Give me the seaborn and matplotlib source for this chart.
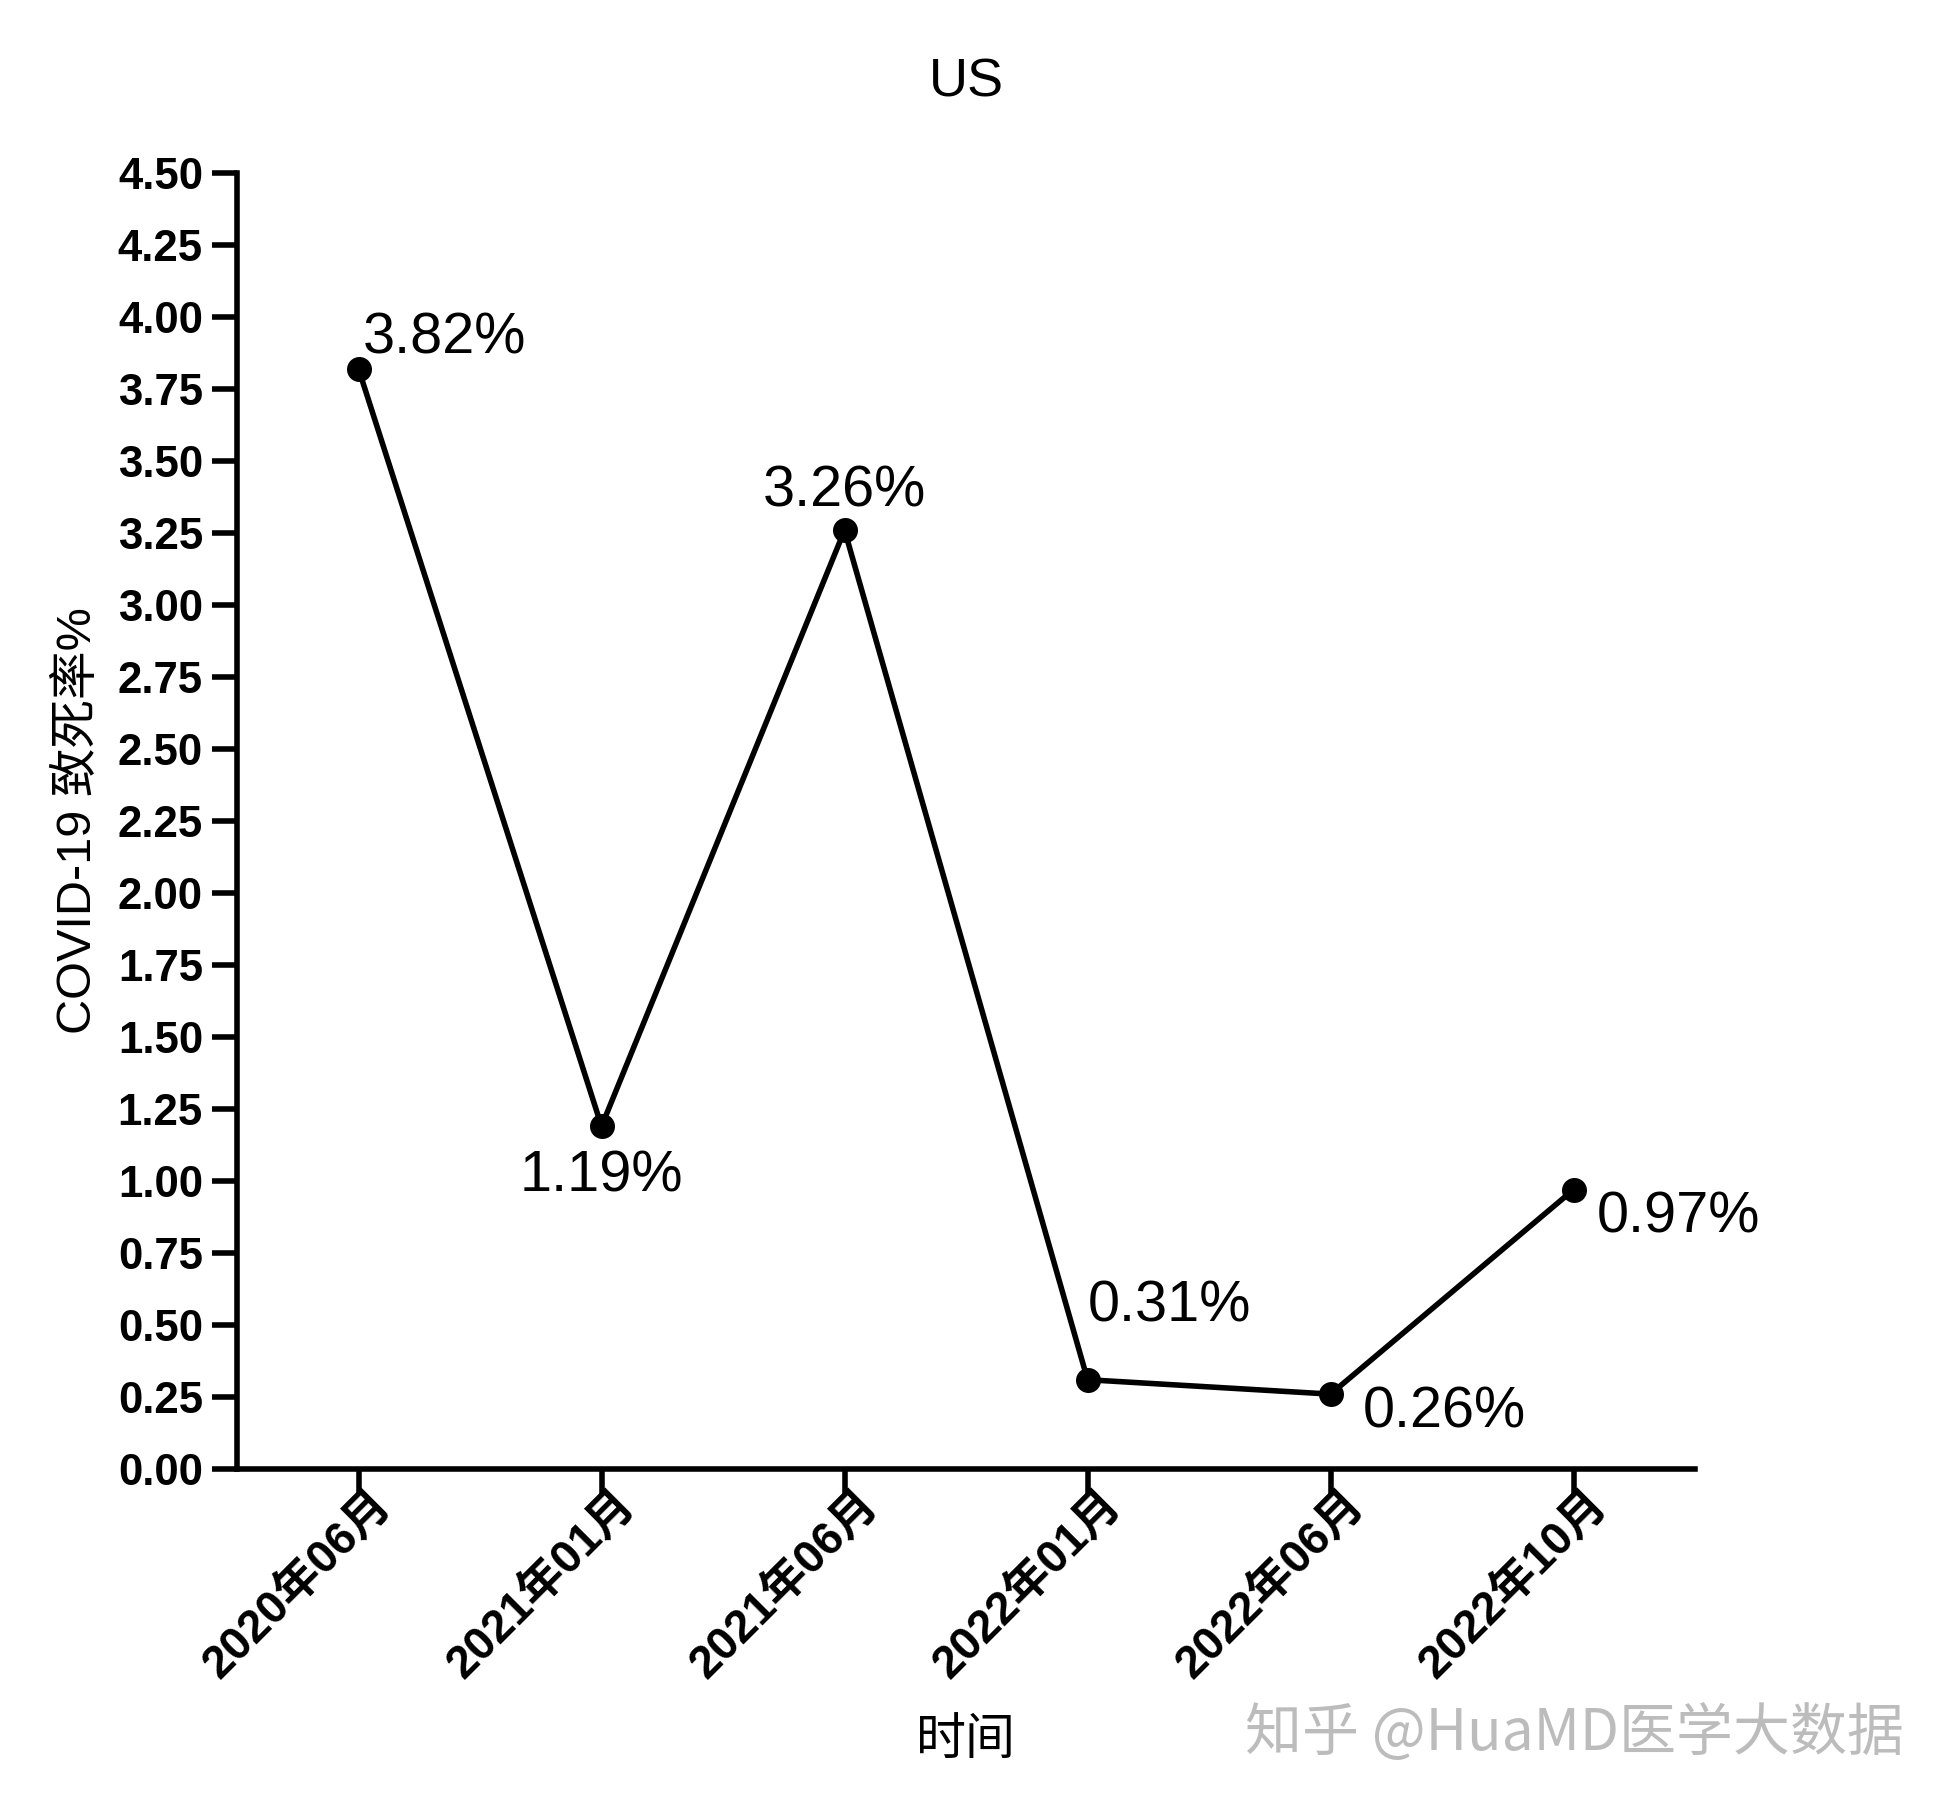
import matplotlib
matplotlib.use("Agg")
import matplotlib.pyplot as plt
import matplotlib.transforms as mtransforms
import pandas as pd
import seaborn as sns

# data
periods = ["2020年06月", "2021年01月", "2021年06月", "2022年01月", "2022年06月", "2022年10月"]
fatality = [3.82, 1.19, 3.26, 0.31, 0.26, 0.97]
value_labels = ["3.82%", "1.19%", "3.26%", "0.31%", "0.26%", "0.97%"]
y_ticks = [0.00, 0.25, 0.50, 0.75, 1.00, 1.25, 1.50, 1.75, 2.00, 2.25,
           2.50, 2.75, 3.00, 3.25, 3.50, 3.75, 4.00, 4.25, 4.50]
y_ticklabels = [f"{t:.2f}" for t in y_ticks]

# label placement (offset in points, horizontal alignment)
label_offsets = [(3, 22, "left"), (0, -36, "center"), (0, 28, "center"),
                 (0, 53, "left"), (23, -13, "left"), (17, -20, "left")]

sns.set_style("ticks")
plt.rcParams["font.family"] = ["Liberation Sans", "Noto Sans CJK SC", "DejaVu Sans"]
for key in ["text.color", "axes.labelcolor", "xtick.color", "ytick.color", "axes.edgecolor"]:
    plt.rcParams[key] = "black"

df = pd.DataFrame({"pos": range(len(periods)), "rate": fatality})

fig = plt.figure(figsize=(19.54, 18.12), dpi=100)
ax = fig.add_axes([0.1213, 0.1893, 0.7462, 0.7152])

sns.lineplot(data=df, x="pos", y="rate", color="black", linewidth=4,
             marker="o", markersize=18, markeredgewidth=0, ax=ax)

for i, (v, txt) in enumerate(zip(fatality, value_labels)):
    dx, dy, ha = label_offsets[i]
    ax.annotate(txt, xy=(i, v), xytext=(dx, dy), textcoords="offset points",
                ha=ha, va="center", fontsize=41.5, color="black")

ax.set_xlim(-0.5, len(periods) - 0.5)
ax.set_ylim(0, 4.5)
ax.set_yticks(y_ticks)
ax.set_yticklabels(y_ticklabels, fontsize=31.5, fontweight="bold")
ax.set_xticks(range(len(periods)))
ax.set_xticklabels(periods, fontsize=33, fontweight="bold", rotation=45,
                   ha="right", va="center", rotation_mode="anchor")

ax.tick_params(axis="y", length=18, width=4, pad=6.5)
ax.tick_params(axis="x", length=18, width=4, pad=3)
for side in ["left", "bottom"]:
    ax.spines[side].set_linewidth(4)
sns.despine(ax=ax)

# nudge the slanted labels so their ends sit just right of each tick
shift = mtransforms.ScaledTranslation(19 / 72, 0, fig.dpi_scale_trans)
for lab in ax.get_xticklabels():
    lab.set_transform(lab.get_transform() + shift)

ax.set_title("US", fontsize=39, pad=55)
ax.set_ylabel("COVID-19 致死率%", fontsize=35, labelpad=12)
ax.set_xlabel("时间", fontsize=36, labelpad=22)

fig.text(0.637, 0.043, "知乎 @HuaMD医学大数据", fontsize=41, color="#bcbcbc",
         ha="left", va="center", family=["Noto Sans CJK SC", "DejaVu Sans"])

fig.savefig("out.png", dpi=100)
